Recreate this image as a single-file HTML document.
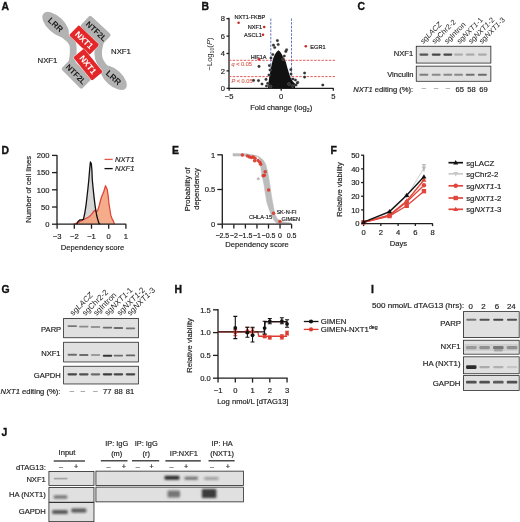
<!DOCTYPE html><html><head><meta charset="utf-8"><style>html,body{margin:0;padding:0;background:#fff;width:520px;height:522px;overflow:hidden}svg{display:block}</style></head><body>
<svg width="520" height="522" viewBox="0 0 520 522" style="paint-order:stroke" font-family='"Liberation Sans", sans-serif'>
<defs><filter id="blur" x="-50%" y="-100%" width="200%" height="300%"><feGaussianBlur stdDeviation="0.45"/></filter><filter id="blur2" x="-50%" y="-100%" width="200%" height="300%"><feGaussianBlur stdDeviation="0.8"/></filter></defs>
<rect width="520" height="522" fill="#fff"/>
<text x="1.5" y="9.5" font-size="10.4" text-anchor="start" fill="#111" font-weight="bold" stroke="#111" stroke-width="0.35">A</text>
<ellipse cx="55.6" cy="24.6" rx="16.4" ry="8.2" fill="#b3b3b3" transform="rotate(43 55.6 24.6)"/>
<ellipse cx="113.6" cy="77.6" rx="16.2" ry="8.2" fill="#b3b3b3" transform="rotate(42 113.6 77.6)"/>
<path d="M 60 32 C 68 37, 73 41, 73.2 47 S 73.6 57, 71.5 64" fill="none" stroke="#b3b3b3" stroke-width="6.8" stroke-linecap="round"/>
<path d="M 101 37 C 100 43, 98 48, 98.2 54 S 100 62, 106 70" fill="none" stroke="#b3b3b3" stroke-width="7.5" stroke-linecap="round"/>
<rect x="62.0" y="66.2" width="29" height="15.2" rx="2" fill="#b3b3b3" transform="rotate(45 76.5 73.8)"/>
<rect x="81.1" y="23.0" width="29" height="15.2" rx="2" fill="#b3b3b3" transform="rotate(43 95.6 30.6)"/>
<text x="55.6" y="27.62" font-size="8.4" text-anchor="middle" fill="#1a1a1a" font-weight="bold" transform="rotate(43 55.6 24.6)">LRR</text>
<text x="113.6" y="80.62" font-size="8.4" text-anchor="middle" fill="#1a1a1a" font-weight="bold" transform="rotate(42 113.6 77.6)">LRR</text>
<text x="96.4" y="34.08" font-size="8.0" text-anchor="middle" fill="#1a1a1a" font-weight="bold" transform="rotate(43 96.4 31.2)">NTF2L</text>
<text x="76.0" y="77.08" font-size="8.0" text-anchor="middle" fill="#1a1a1a" font-weight="bold" transform="rotate(45 76.0 74.2)">NTF2L</text>
<rect x="69.95" y="33.0" width="28.5" height="14" rx="1.5" fill="#e4282a" stroke="#fff" stroke-width="0.9" transform="rotate(44 84.2 40.0)"/>
<text x="84.2" y="43.0" font-size="8.4" text-anchor="middle" fill="#fff" font-weight="bold" transform="rotate(44 84.2 40.0)">NXT1</text>
<rect x="73.0" y="57.599999999999994" width="30" height="14" rx="1.5" fill="#e4282a" stroke="#fff" stroke-width="0.9" transform="rotate(51 88.0 64.6)"/>
<text x="88.0" y="67.6" font-size="8.4" text-anchor="middle" fill="#fff" font-weight="bold" transform="rotate(51 88.0 64.6)">NXT1</text>
<text x="37.5" y="63.0" font-size="7.8" text-anchor="start" fill="#1e1e1e" stroke="#1e1e1e" stroke-width="0.18">NXF1</text>
<text x="111.0" y="53.5" font-size="7.8" text-anchor="start" fill="#1e1e1e" stroke="#1e1e1e" stroke-width="0.18">NXF1</text>
<text x="201.5" y="9.5" font-size="10.4" text-anchor="start" fill="#111" font-weight="bold" stroke="#111" stroke-width="0.35">B</text>
<line x1="229.0" y1="17.8" x2="229.0" y2="88.3" stroke="#1e1e1e" stroke-width="1.3"/>
<line x1="228.45" y1="88.3" x2="333.6" y2="88.3" stroke="#1e1e1e" stroke-width="1.3"/>
<line x1="226.5" y1="88.3" x2="229.0" y2="88.3" stroke="#1e1e1e" stroke-width="1.3"/>
<text x="225.0" y="91.0" font-size="7.6" text-anchor="end" fill="#1e1e1e" stroke="#1e1e1e" stroke-width="0.18">0</text>
<line x1="226.5" y1="70.9" x2="229.0" y2="70.9" stroke="#1e1e1e" stroke-width="1.3"/>
<text x="225.0" y="73.60000000000001" font-size="7.6" text-anchor="end" fill="#1e1e1e" stroke="#1e1e1e" stroke-width="0.18">2</text>
<line x1="226.5" y1="53.5" x2="229.0" y2="53.5" stroke="#1e1e1e" stroke-width="1.3"/>
<text x="225.0" y="56.2" font-size="7.6" text-anchor="end" fill="#1e1e1e" stroke="#1e1e1e" stroke-width="0.18">4</text>
<line x1="226.5" y1="36.1" x2="229.0" y2="36.1" stroke="#1e1e1e" stroke-width="1.3"/>
<text x="225.0" y="38.800000000000004" font-size="7.6" text-anchor="end" fill="#1e1e1e" stroke="#1e1e1e" stroke-width="0.18">6</text>
<line x1="226.5" y1="18.700000000000003" x2="229.0" y2="18.700000000000003" stroke="#1e1e1e" stroke-width="1.3"/>
<text x="225.0" y="21.400000000000002" font-size="7.6" text-anchor="end" fill="#1e1e1e" stroke="#1e1e1e" stroke-width="0.18">8</text>
<line x1="229.1" y1="88.3" x2="229.1" y2="90.8" stroke="#1e1e1e" stroke-width="1.3"/>
<text x="229.1" y="98.8" font-size="7.6" text-anchor="middle" fill="#1e1e1e" stroke="#1e1e1e" stroke-width="0.18">−5</text>
<line x1="281.2" y1="88.3" x2="281.2" y2="90.8" stroke="#1e1e1e" stroke-width="1.3"/>
<text x="281.2" y="98.8" font-size="7.6" text-anchor="middle" fill="#1e1e1e" stroke="#1e1e1e" stroke-width="0.18">0</text>
<line x1="333.3" y1="88.3" x2="333.3" y2="90.8" stroke="#1e1e1e" stroke-width="1.3"/>
<text x="333.3" y="98.8" font-size="7.6" text-anchor="middle" fill="#1e1e1e" stroke="#1e1e1e" stroke-width="0.18">5</text>
<text x="281.2" y="110" font-size="7.6" text-anchor="middle" fill="#1e1e1e" stroke="#1e1e1e" stroke-width="0.18">Fold change (log<tspan font-size="5.2" dy="1.8">2</tspan><tspan dy="-1.8">)</tspan></text>
<text x="212.4" y="54" font-size="7.6" text-anchor="middle" fill="#1e1e1e" transform="rotate(-90 212.4 54)">−Log<tspan font-size="5.2" dy="1.8">10</tspan><tspan dy="-1.8">(</tspan><tspan font-style="italic">P</tspan>)</text>
<line x1="229.0" y1="60.3" x2="335.5" y2="60.3" stroke="#e04848" stroke-width="0.9" stroke-dasharray="2.4 1.3"/>
<line x1="229.0" y1="76.6" x2="335.5" y2="76.6" stroke="#e04848" stroke-width="0.9" stroke-dasharray="2.4 1.3"/>
<line x1="270.8" y1="18.5" x2="270.8" y2="88" stroke="#4a66b8" stroke-width="0.9" stroke-dasharray="2.4 1.3"/>
<line x1="291.5" y1="18.5" x2="291.5" y2="88" stroke="#4a66b8" stroke-width="0.9" stroke-dasharray="2.4 1.3"/>
<path d="M 268 88 L 268.3 84 L 269.3 77 L 270.6 70 L 271.8 64 L 273 59 L 274.6 55 L 276.5 52 L 278.4 50.3 L 280 51.5 L 281.6 54 L 283.5 57.5 L 285.8 62 L 287.3 67.5 L 288.8 72.5 L 290.2 77 L 292.8 81.5 L 295.4 84 L 295 88 Z" fill="#111"/>
<circle cx="259" cy="66.4" r="1.35" fill="#333" stroke="#aaa" stroke-width="0.45"/>
<circle cx="258.5" cy="80.6" r="1.35" fill="#333" stroke="#aaa" stroke-width="0.45"/>
<circle cx="262" cy="84" r="1.35" fill="#333" stroke="#aaa" stroke-width="0.45"/>
<circle cx="266" cy="79.4" r="1.35" fill="#333" stroke="#aaa" stroke-width="0.45"/>
<circle cx="267.7" cy="83.4" r="1.35" fill="#333" stroke="#aaa" stroke-width="0.45"/>
<circle cx="269.4" cy="65.6" r="1.35" fill="#333" stroke="#aaa" stroke-width="0.45"/>
<circle cx="283.3" cy="59.2" r="1.35" fill="#333" stroke="#aaa" stroke-width="0.45"/>
<circle cx="290.8" cy="69.6" r="1.35" fill="#333" stroke="#aaa" stroke-width="0.45"/>
<circle cx="304.6" cy="73" r="1.35" fill="#333" stroke="#aaa" stroke-width="0.45"/>
<circle cx="304.6" cy="77.1" r="1.35" fill="#333" stroke="#aaa" stroke-width="0.45"/>
<circle cx="295.4" cy="80" r="1.35" fill="#333" stroke="#aaa" stroke-width="0.45"/>
<circle cx="297.7" cy="82.3" r="1.35" fill="#333" stroke="#aaa" stroke-width="0.45"/>
<circle cx="253.5" cy="80.4" r="1.35" fill="#333" stroke="#aaa" stroke-width="0.45"/>
<circle cx="322.8" cy="85" r="1.35" fill="#333" stroke="#aaa" stroke-width="0.45"/>
<circle cx="277.4" cy="40.6" r="1.35" fill="#333" stroke="#aaa" stroke-width="0.45"/>
<circle cx="278.2" cy="44.5" r="1.35" fill="#333" stroke="#aaa" stroke-width="0.45"/>
<circle cx="273.5" cy="45.2" r="1.35" fill="#333" stroke="#aaa" stroke-width="0.45"/>
<circle cx="274.7" cy="47.5" r="1.35" fill="#333" stroke="#aaa" stroke-width="0.45"/>
<circle cx="286.6" cy="49.8" r="1.35" fill="#333" stroke="#aaa" stroke-width="0.45"/>
<circle cx="285.8" cy="51.4" r="1.35" fill="#333" stroke="#aaa" stroke-width="0.45"/>
<circle cx="272.8" cy="54.5" r="1.35" fill="#333" stroke="#aaa" stroke-width="0.45"/>
<circle cx="284.3" cy="56" r="1.35" fill="#333" stroke="#aaa" stroke-width="0.45"/>
<circle cx="271" cy="58" r="1.35" fill="#333" stroke="#aaa" stroke-width="0.45"/>
<circle cx="270" cy="70" r="1.35" fill="#333" stroke="#aaa" stroke-width="0.45"/>
<circle cx="269" cy="75" r="1.35" fill="#333" stroke="#aaa" stroke-width="0.45"/>
<circle cx="291" cy="74" r="1.35" fill="#333" stroke="#aaa" stroke-width="0.45"/>
<circle cx="293" cy="79" r="1.35" fill="#333" stroke="#aaa" stroke-width="0.45"/>
<circle cx="296" cy="85" r="1.35" fill="#333" stroke="#aaa" stroke-width="0.45"/>
<circle cx="266.5" cy="86" r="1.35" fill="#333" stroke="#aaa" stroke-width="0.45"/>
<circle cx="270.5" cy="86.5" r="1.35" fill="#333" stroke="#aaa" stroke-width="0.45"/>
<circle cx="289" cy="84" r="1.35" fill="#333" stroke="#aaa" stroke-width="0.45"/>
<circle cx="292.5" cy="86" r="1.35" fill="#333" stroke="#aaa" stroke-width="0.45"/>
<circle cx="297.3" cy="83" r="1.35" fill="#333" stroke="#aaa" stroke-width="0.45"/>
<circle cx="238.6" cy="22.7" r="1.3" fill="#c42a2a"/>
<circle cx="264.2" cy="27" r="1.3" fill="#c42a2a"/>
<circle cx="263" cy="34.8" r="1.3" fill="#c42a2a"/>
<circle cx="305.8" cy="46.2" r="1.3" fill="#c42a2a"/>
<circle cx="259" cy="59.2" r="1.3" fill="#c42a2a"/>
<text x="234.5" y="19.2" font-size="5.6" text-anchor="start" fill="#1e1e1e" stroke="#1e1e1e" stroke-width="0.18">NXT1-FKBP</text>
<text x="262" y="29.0" font-size="5.6" text-anchor="end" fill="#1e1e1e" stroke="#1e1e1e" stroke-width="0.18">NXF1</text>
<text x="261.8" y="37.0" font-size="5.6" text-anchor="end" fill="#1e1e1e" stroke="#1e1e1e" stroke-width="0.18">ASCL1</text>
<text x="266.5" y="59.4" font-size="5.6" text-anchor="end" fill="#1e1e1e" stroke="#1e1e1e" stroke-width="0.18">HIF1A</text>
<text x="310.3" y="48.6" font-size="5.6" text-anchor="start" fill="#1e1e1e" stroke="#1e1e1e" stroke-width="0.18">EGR1</text>
<text x="231.5" y="66.3" font-size="5.6" text-anchor="start" fill="#e06a5a" stroke="#e06a5a" stroke-width="0.18"><tspan font-style="italic">q</tspan> &lt; 0.05</text>
<text x="231.5" y="82.5" font-size="5.6" text-anchor="start" fill="#e06a5a" stroke="#e06a5a" stroke-width="0.18"><tspan font-style="italic">P</tspan> &lt; 0.05</text>
<text x="357.5" y="9.5" font-size="10.4" text-anchor="start" fill="#111" font-weight="bold" stroke="#111" stroke-width="0.35">C</text>
<text x="423.2" y="44.0" font-size="7.4" fill="#1e1e1e" transform="rotate(-45 423.2 44.0)">sg<tspan font-style="italic">LACZ</tspan></text>
<text x="434.8" y="44.0" font-size="7.4" fill="#1e1e1e" transform="rotate(-45 434.8 44.0)">sgChr2-2</text>
<text x="447.3" y="44.0" font-size="7.4" fill="#1e1e1e" transform="rotate(-45 447.3 44.0)">sgIntron</text>
<text x="459.8" y="44.0" font-size="7.4" fill="#1e1e1e" transform="rotate(-45 459.8 44.0)">sg<tspan font-style="italic">NXT1</tspan>-1</text>
<text x="471.3" y="44.0" font-size="7.4" fill="#1e1e1e" transform="rotate(-45 471.3 44.0)">sg<tspan font-style="italic">NXT1</tspan>-2</text>
<text x="481.9" y="44.0" font-size="7.4" fill="#1e1e1e" transform="rotate(-45 481.9 44.0)">sg<tspan font-style="italic">NXT1</tspan>-3</text>
<rect x="416.6" y="46.6" width="73.9" height="16.1" fill="#e0e0e0" stroke="#1a1a1a" stroke-width="1.5"/>
<rect x="416.6" y="66.5" width="73.9" height="14.4" fill="#e0e0e0" stroke="#1a1a1a" stroke-width="1.5"/>
<rect x="419.40" y="53.55" width="9" height="2.1" rx="1.05" fill="#222" fill-opacity="0.72" filter="url(#blur)"/>
<rect x="419.40" y="73.75" width="9" height="1.9" rx="0.95" fill="#222" fill-opacity="0.5" filter="url(#blur)"/>
<rect x="431.70" y="53.55" width="9" height="2.1" rx="1.05" fill="#222" fill-opacity="0.8" filter="url(#blur)"/>
<rect x="431.70" y="73.75" width="9" height="1.9" rx="0.95" fill="#222" fill-opacity="0.45" filter="url(#blur)"/>
<rect x="443.30" y="53.55" width="9" height="2.1" rx="1.05" fill="#222" fill-opacity="0.8" filter="url(#blur)"/>
<rect x="443.30" y="73.75" width="9" height="1.9" rx="0.95" fill="#222" fill-opacity="0.45" filter="url(#blur)"/>
<rect x="454.10" y="53.55" width="9" height="2.1" rx="1.05" fill="#222" fill-opacity="0.25" filter="url(#blur)"/>
<rect x="454.10" y="73.75" width="9" height="1.9" rx="0.95" fill="#222" fill-opacity="0.45" filter="url(#blur)"/>
<rect x="465.70" y="53.55" width="9" height="2.1" rx="1.05" fill="#222" fill-opacity="0.27" filter="url(#blur)"/>
<rect x="465.70" y="73.75" width="9" height="1.9" rx="0.95" fill="#222" fill-opacity="0.58" filter="url(#blur)"/>
<rect x="477.90" y="53.55" width="9" height="2.1" rx="1.05" fill="#222" fill-opacity="0.27" filter="url(#blur)"/>
<rect x="477.90" y="73.75" width="9" height="1.9" rx="0.95" fill="#222" fill-opacity="0.62" filter="url(#blur)"/>
<text x="413.2" y="56.2" font-size="7.6" text-anchor="end" fill="#1e1e1e" stroke="#1e1e1e" stroke-width="0.18">NXF1</text>
<text x="413.6" y="77.4" font-size="7.6" text-anchor="end" fill="#1e1e1e" stroke="#1e1e1e" stroke-width="0.18">Vinculin</text>
<text x="413.2" y="92.2" font-size="7.6" text-anchor="end" fill="#1e1e1e" stroke="#1e1e1e" stroke-width="0.18"><tspan font-style="italic">NXT1</tspan> editing (%):</text>
<text x="423.9" y="90.0" font-size="7.6" text-anchor="middle" fill="#777" stroke="#777" stroke-width="0.18">–</text>
<text x="436.2" y="90.0" font-size="7.6" text-anchor="middle" fill="#777" stroke="#777" stroke-width="0.18">–</text>
<text x="447.8" y="90.0" font-size="7.6" text-anchor="middle" fill="#777" stroke="#777" stroke-width="0.18">–</text>
<text x="459.8" y="91.8" font-size="7.6" text-anchor="middle" fill="#1e1e1e" stroke="#1e1e1e" stroke-width="0.18">65</text>
<text x="471.4" y="91.8" font-size="7.6" text-anchor="middle" fill="#1e1e1e" stroke="#1e1e1e" stroke-width="0.18">58</text>
<text x="483.59999999999997" y="91.8" font-size="7.6" text-anchor="middle" fill="#1e1e1e" stroke="#1e1e1e" stroke-width="0.18">69</text>
<text x="1.5" y="154.2" font-size="10.4" text-anchor="start" fill="#111" font-weight="bold" stroke="#111" stroke-width="0.35">D</text>
<polygon points="76.5,224.2 78,221.5 80,219.8 82,219.8 83.5,219.2 85,212 86.2,203.8 87.1,196 87.9,188.8 88.8,180 89.6,170 90.4,162 91.3,163.5 91.9,170 92.3,180 93.2,189 94.1,197.6 95.0,205 95.9,210.8 96.7,215.5 97.6,218.8 98.9,223.2 100,224.2" fill="#d6d6d6"/>
<polygon points="73.6,224.2 77,223.2 80,221.4 82.5,220.2 85.3,218.8 88.8,217 91.5,214.4 94.5,210.4 96.3,211.5 97.6,210.8 99.2,205.5 100.6,200 101.6,196.7 103.8,191.5 105.5,185.7 107.3,189.7 108.2,196 109,203.8 110,210 110.8,215.2 112.2,219 113.5,221.4 114.4,224.2" fill="#f4a07a" fill-opacity="0.88"/>
<polyline points="73.6,224.2 77,223.2 80,221.4 82.5,220.2 85.3,218.8 88.8,217 91.5,214.4 94.5,210.4 96.3,211.5 97.6,210.8 99.2,205.5 100.6,200 101.6,196.7 103.8,191.5 105.5,185.7 107.3,189.7 108.2,196 109,203.8 110,210 110.8,215.2 112.2,219 113.5,221.4 114.4,224.2" fill="none" stroke="#dc4436" stroke-width="1.25" stroke-linejoin="round"/>
<polyline points="76.5,224.2 78,221.5 80,219.8 82,219.8 83.5,219.2 85,212 86.2,203.8 87.1,196 87.9,188.8 88.8,180 89.6,170 90.4,162 91.3,163.5 91.9,170 92.3,180 93.2,189 94.1,197.6 95.0,205 95.9,210.8 96.7,215.5 97.6,218.8 98.9,223.2 100,224.2" fill="none" stroke="#111" stroke-width="1.3" stroke-linejoin="round"/>
<line x1="57.0" y1="155.0" x2="57.0" y2="224.2" stroke="#1e1e1e" stroke-width="1.3"/>
<line x1="57.0" y1="224.2" x2="126.2" y2="224.2" stroke="#1e1e1e" stroke-width="1.3"/>
<line x1="52.0" y1="224.2" x2="57.0" y2="224.2" stroke="#1e1e1e" stroke-width="1.3"/>
<text x="49.4" y="226.89999999999998" font-size="7.6" text-anchor="end" fill="#1e1e1e" stroke="#1e1e1e" stroke-width="0.18">0</text>
<line x1="52.0" y1="207.0" x2="57.0" y2="207.0" stroke="#1e1e1e" stroke-width="1.3"/>
<text x="49.4" y="209.7" font-size="7.6" text-anchor="end" fill="#1e1e1e" stroke="#1e1e1e" stroke-width="0.18">50</text>
<line x1="52.0" y1="189.79999999999998" x2="57.0" y2="189.79999999999998" stroke="#1e1e1e" stroke-width="1.3"/>
<text x="49.4" y="192.49999999999997" font-size="7.6" text-anchor="end" fill="#1e1e1e" stroke="#1e1e1e" stroke-width="0.18">100</text>
<line x1="52.0" y1="172.6" x2="57.0" y2="172.6" stroke="#1e1e1e" stroke-width="1.3"/>
<text x="49.4" y="175.29999999999998" font-size="7.6" text-anchor="end" fill="#1e1e1e" stroke="#1e1e1e" stroke-width="0.18">150</text>
<line x1="52.0" y1="155.39999999999998" x2="57.0" y2="155.39999999999998" stroke="#1e1e1e" stroke-width="1.3"/>
<text x="49.4" y="158.09999999999997" font-size="7.6" text-anchor="end" fill="#1e1e1e" stroke="#1e1e1e" stroke-width="0.18">200</text>
<line x1="57.10000000000001" y1="224.2" x2="57.10000000000001" y2="228.7" stroke="#1e1e1e" stroke-width="1.3"/>
<text x="57.10000000000001" y="239.0" font-size="7.6" text-anchor="middle" fill="#1e1e1e" stroke="#1e1e1e" stroke-width="0.18">−3</text>
<line x1="74.30000000000001" y1="224.2" x2="74.30000000000001" y2="228.7" stroke="#1e1e1e" stroke-width="1.3"/>
<text x="74.30000000000001" y="239.0" font-size="7.6" text-anchor="middle" fill="#1e1e1e" stroke="#1e1e1e" stroke-width="0.18">−2</text>
<line x1="91.5" y1="224.2" x2="91.5" y2="228.7" stroke="#1e1e1e" stroke-width="1.3"/>
<text x="91.5" y="239.0" font-size="7.6" text-anchor="middle" fill="#1e1e1e" stroke="#1e1e1e" stroke-width="0.18">−1</text>
<line x1="108.7" y1="224.2" x2="108.7" y2="228.7" stroke="#1e1e1e" stroke-width="1.3"/>
<text x="108.7" y="239.0" font-size="7.6" text-anchor="middle" fill="#1e1e1e" stroke="#1e1e1e" stroke-width="0.18">0</text>
<line x1="125.9" y1="224.2" x2="125.9" y2="228.7" stroke="#1e1e1e" stroke-width="1.3"/>
<text x="125.9" y="239.0" font-size="7.6" text-anchor="middle" fill="#1e1e1e" stroke="#1e1e1e" stroke-width="0.18">1</text>
<text x="92.5" y="250.2" font-size="7.6" text-anchor="middle" fill="#1e1e1e" stroke="#1e1e1e" stroke-width="0.18">Dependency score</text>
<text x="30.6" y="189.4" font-size="7.6" text-anchor="middle" fill="#1e1e1e" transform="rotate(-90 30.6 189.4)" stroke="#1e1e1e" stroke-width="0.18">Number of cell lines</text>
<line x1="104.5" y1="159.4" x2="112.7" y2="159.4" stroke="#e45a48" stroke-width="1.3"/>
<line x1="104.5" y1="168.6" x2="112.7" y2="168.6" stroke="#111" stroke-width="1.3"/>
<text x="115" y="162.0" font-size="7.6" text-anchor="start" fill="#1e1e1e" font-style="italic" stroke="#1e1e1e" stroke-width="0.18">NXT1</text>
<text x="115" y="171.2" font-size="7.6" text-anchor="start" fill="#1e1e1e" font-style="italic" stroke="#1e1e1e" stroke-width="0.18">NXF1</text>
<text x="172" y="154.2" font-size="10.4" text-anchor="start" fill="#111" font-weight="bold" stroke="#111" stroke-width="0.35">E</text>
<polygon points="233.0,153.6 246.1,153.8 256.5,155.6 260.0,159.5 260.8,167.5 261.9,174.4 264.0,184.8 265.6,195.2 266.8,202.1 269.0,209 271.6,216 274.5,221.1 277.3,223.6 291.2,223.6 290.5,223.0 282.5,221.8 277.6,219.2 274.9,214.2 273.2,205.6 271.6,196.9 270.4,188.3 269.0,179.6 267.5,171 265.6,164 262.9,159.7 258.5,156.2 246,156.0 233.0,156.0" fill="#bcbcbc" stroke="#bcbcbc" stroke-width="0.6" stroke-linejoin="round"/>
<circle cx="258.3" cy="178.7" r="1.5" fill="#bcbcbc"/>
<circle cx="242.4" cy="155.1" r="1.75" fill="#dc3a2c" fill-opacity="0.92"/>
<circle cx="247.5" cy="156" r="1.75" fill="#dc3a2c" fill-opacity="0.92"/>
<circle cx="249.5" cy="156.9" r="1.75" fill="#dc3a2c" fill-opacity="0.92"/>
<circle cx="251.5" cy="157.4" r="1.75" fill="#dc3a2c" fill-opacity="0.92"/>
<circle cx="253.2" cy="157" r="1.75" fill="#dc3a2c" fill-opacity="0.92"/>
<circle cx="255" cy="158.3" r="1.75" fill="#dc3a2c" fill-opacity="0.92"/>
<circle cx="254.6" cy="160.8" r="1.75" fill="#dc3a2c" fill-opacity="0.92"/>
<circle cx="258" cy="160.5" r="1.75" fill="#dc3a2c" fill-opacity="0.92"/>
<circle cx="259.8" cy="162.3" r="1.75" fill="#dc3a2c" fill-opacity="0.92"/>
<circle cx="260.6" cy="164.3" r="1.75" fill="#dc3a2c" fill-opacity="0.92"/>
<circle cx="265.2" cy="171.8" r="1.75" fill="#dc3a2c" fill-opacity="0.92"/>
<circle cx="264.3" cy="175.3" r="1.75" fill="#dc3a2c" fill-opacity="0.92"/>
<circle cx="263.1" cy="175.8" r="1.75" fill="#dc3a2c" fill-opacity="0.92"/>
<circle cx="268.6" cy="190" r="1.75" fill="#dc3a2c" fill-opacity="0.92"/>
<circle cx="273.5" cy="213.3" r="1.75" fill="#dc3a2c" fill-opacity="0.92"/>
<circle cx="279.9" cy="221.5" r="1.75" fill="#dc3a2c" fill-opacity="0.92"/>
<line x1="222.3" y1="154.6" x2="222.3" y2="224.2" stroke="#1e1e1e" stroke-width="1.3"/>
<line x1="222.3" y1="224.2" x2="291.6" y2="224.2" stroke="#1e1e1e" stroke-width="1.3"/>
<line x1="217.3" y1="224.2" x2="222.3" y2="224.2" stroke="#1e1e1e" stroke-width="1.3"/>
<text x="215.3" y="226.89999999999998" font-size="7.6" text-anchor="end" fill="#1e1e1e" stroke="#1e1e1e" stroke-width="0.18">0</text>
<line x1="217.3" y1="189.5" x2="222.3" y2="189.5" stroke="#1e1e1e" stroke-width="1.3"/>
<text x="215.3" y="192.2" font-size="7.6" text-anchor="end" fill="#1e1e1e" stroke="#1e1e1e" stroke-width="0.18">0.5</text>
<line x1="217.3" y1="154.79999999999998" x2="222.3" y2="154.79999999999998" stroke="#1e1e1e" stroke-width="1.3"/>
<text x="215.3" y="157.49999999999997" font-size="7.6" text-anchor="end" fill="#1e1e1e" stroke="#1e1e1e" stroke-width="0.18">1</text>
<line x1="222.3" y1="224.2" x2="222.3" y2="228.5" stroke="#1e1e1e" stroke-width="1.3"/>
<text x="222.3" y="238.0" font-size="7.0" text-anchor="middle" fill="#1e1e1e" stroke="#1e1e1e" stroke-width="0.18">−2.5</text>
<line x1="233.85000000000002" y1="224.2" x2="233.85000000000002" y2="228.5" stroke="#1e1e1e" stroke-width="1.3"/>
<text x="233.85000000000002" y="238.0" font-size="7.0" text-anchor="middle" fill="#1e1e1e" stroke="#1e1e1e" stroke-width="0.18">−2</text>
<line x1="245.4" y1="224.2" x2="245.4" y2="228.5" stroke="#1e1e1e" stroke-width="1.3"/>
<text x="245.4" y="238.0" font-size="7.0" text-anchor="middle" fill="#1e1e1e" stroke="#1e1e1e" stroke-width="0.18">−1.5</text>
<line x1="256.95000000000005" y1="224.2" x2="256.95000000000005" y2="228.5" stroke="#1e1e1e" stroke-width="1.3"/>
<text x="256.95000000000005" y="238.0" font-size="7.0" text-anchor="middle" fill="#1e1e1e" stroke="#1e1e1e" stroke-width="0.18">−1</text>
<line x1="268.5" y1="224.2" x2="268.5" y2="228.5" stroke="#1e1e1e" stroke-width="1.3"/>
<text x="268.5" y="238.0" font-size="7.0" text-anchor="middle" fill="#1e1e1e" stroke="#1e1e1e" stroke-width="0.18">−0.5</text>
<line x1="280.05" y1="224.2" x2="280.05" y2="228.5" stroke="#1e1e1e" stroke-width="1.3"/>
<text x="280.05" y="238.0" font-size="7.0" text-anchor="middle" fill="#1e1e1e" stroke="#1e1e1e" stroke-width="0.18">0</text>
<line x1="291.6" y1="224.2" x2="291.6" y2="228.5" stroke="#1e1e1e" stroke-width="1.3"/>
<text x="291.6" y="238.0" font-size="7.0" text-anchor="middle" fill="#1e1e1e" stroke="#1e1e1e" stroke-width="0.18">0.5</text>
<text x="257" y="246.6" font-size="7.6" text-anchor="middle" fill="#1e1e1e" stroke="#1e1e1e" stroke-width="0.18">Dependency score</text>
<text x="190.3" y="189.3" font-size="7.6" text-anchor="middle" fill="#1e1e1e" transform="rotate(-90 190.3 189.3)" stroke="#1e1e1e" stroke-width="0.18">Probability of</text>
<text x="199.4" y="189.0" font-size="7.6" text-anchor="middle" fill="#1e1e1e" transform="rotate(-90 199.4 189.0)" stroke="#1e1e1e" stroke-width="0.18">dependency</text>
<text x="276.4" y="214.2" font-size="5.6" text-anchor="start" fill="#1e1e1e" stroke="#1e1e1e" stroke-width="0.18">SK-N-FI</text>
<text x="272.0" y="219.4" font-size="5.6" text-anchor="end" fill="#1e1e1e" stroke="#1e1e1e" stroke-width="0.18">CHLA-15</text>
<text x="281.6" y="221.2" font-size="5.6" text-anchor="start" fill="#1e1e1e" stroke="#1e1e1e" stroke-width="0.18">GIMEN</text>
<text x="330.5" y="154.2" font-size="10.4" text-anchor="start" fill="#111" font-weight="bold" stroke="#111" stroke-width="0.35">F</text>
<line x1="363.6" y1="154.8" x2="363.6" y2="223.6" stroke="#1e1e1e" stroke-width="1.3"/>
<line x1="363.6" y1="223.6" x2="432.8" y2="223.6" stroke="#1e1e1e" stroke-width="1.3"/>
<line x1="361.1" y1="223.6" x2="363.6" y2="223.6" stroke="#1e1e1e" stroke-width="1.3"/>
<text x="359.6" y="226.29999999999998" font-size="7.6" text-anchor="end" fill="#1e1e1e" stroke="#1e1e1e" stroke-width="0.18">0</text>
<line x1="361.1" y1="209.92" x2="363.6" y2="209.92" stroke="#1e1e1e" stroke-width="1.3"/>
<text x="359.6" y="212.61999999999998" font-size="7.6" text-anchor="end" fill="#1e1e1e" stroke="#1e1e1e" stroke-width="0.18">10</text>
<line x1="361.1" y1="196.23999999999998" x2="363.6" y2="196.23999999999998" stroke="#1e1e1e" stroke-width="1.3"/>
<text x="359.6" y="198.93999999999997" font-size="7.6" text-anchor="end" fill="#1e1e1e" stroke="#1e1e1e" stroke-width="0.18">20</text>
<line x1="361.1" y1="182.56" x2="363.6" y2="182.56" stroke="#1e1e1e" stroke-width="1.3"/>
<text x="359.6" y="185.26" font-size="7.6" text-anchor="end" fill="#1e1e1e" stroke="#1e1e1e" stroke-width="0.18">30</text>
<line x1="361.1" y1="168.88" x2="363.6" y2="168.88" stroke="#1e1e1e" stroke-width="1.3"/>
<text x="359.6" y="171.57999999999998" font-size="7.6" text-anchor="end" fill="#1e1e1e" stroke="#1e1e1e" stroke-width="0.18">40</text>
<line x1="361.1" y1="155.2" x2="363.6" y2="155.2" stroke="#1e1e1e" stroke-width="1.3"/>
<text x="359.6" y="157.89999999999998" font-size="7.6" text-anchor="end" fill="#1e1e1e" stroke="#1e1e1e" stroke-width="0.18">50</text>
<line x1="363.6" y1="223.6" x2="363.6" y2="226.1" stroke="#1e1e1e" stroke-width="1.3"/>
<text x="363.6" y="234.7" font-size="7.6" text-anchor="middle" fill="#1e1e1e" stroke="#1e1e1e" stroke-width="0.18">0</text>
<line x1="380.84000000000003" y1="223.6" x2="380.84000000000003" y2="226.1" stroke="#1e1e1e" stroke-width="1.3"/>
<text x="380.84000000000003" y="234.7" font-size="7.6" text-anchor="middle" fill="#1e1e1e" stroke="#1e1e1e" stroke-width="0.18">2</text>
<line x1="398.08000000000004" y1="223.6" x2="398.08000000000004" y2="226.1" stroke="#1e1e1e" stroke-width="1.3"/>
<text x="398.08000000000004" y="234.7" font-size="7.6" text-anchor="middle" fill="#1e1e1e" stroke="#1e1e1e" stroke-width="0.18">4</text>
<line x1="415.32000000000005" y1="223.6" x2="415.32000000000005" y2="226.1" stroke="#1e1e1e" stroke-width="1.3"/>
<text x="415.32000000000005" y="234.7" font-size="7.6" text-anchor="middle" fill="#1e1e1e" stroke="#1e1e1e" stroke-width="0.18">6</text>
<line x1="432.56" y1="223.6" x2="432.56" y2="226.1" stroke="#1e1e1e" stroke-width="1.3"/>
<text x="432.56" y="234.7" font-size="7.6" text-anchor="middle" fill="#1e1e1e" stroke="#1e1e1e" stroke-width="0.18">8</text>
<text x="398.4" y="245.9" font-size="7.6" text-anchor="middle" fill="#1e1e1e" stroke="#1e1e1e" stroke-width="0.18">Days</text>
<text x="342.3" y="189.5" font-size="7.6" text-anchor="middle" fill="#1e1e1e" transform="rotate(-90 342.3 189.5)" stroke="#1e1e1e" stroke-width="0.18">Relative viability</text>
<polyline points="363.6,222.232 389.46000000000004,212.656 406.70000000000005,196.23999999999998 423.94,168.196" fill="none" stroke="#c8c8c8" stroke-width="0.9"/>
<polygon points="363.6,224.87199999999999 361.07000000000005,220.472 366.13,220.472" fill="#c8c8c8"/>
<polygon points="389.46000000000004,215.296 386.93000000000006,210.89600000000002 391.99,210.89600000000002" fill="#c8c8c8"/>
<polygon points="406.70000000000005,198.87999999999997 404.1700000000001,194.48 409.23,194.48" fill="#c8c8c8"/>
<polygon points="423.94,170.83599999999998 421.41,166.436 426.46999999999997,166.436" fill="#c8c8c8"/>
<polyline points="363.6,222.232 389.46000000000004,216.076 406.70000000000005,205.816 423.94,191.1784" fill="none" stroke="#e0463c" stroke-width="1.35"/>
<rect x="361.40000000000003" y="220.032" width="4.4" height="4.4" fill="#e0463c"/>
<rect x="387.26000000000005" y="213.876" width="4.4" height="4.4" fill="#e0463c"/>
<rect x="404.50000000000006" y="203.616" width="4.4" height="4.4" fill="#e0463c"/>
<rect x="421.74" y="188.97840000000002" width="4.4" height="4.4" fill="#e0463c"/>
<polyline points="363.6,222.232 389.46000000000004,215.392 406.70000000000005,201.98559999999998 423.94,185.296" fill="none" stroke="#e0463c" stroke-width="1.35"/>
<circle cx="363.6" cy="222.232" r="2.2" fill="#e0463c"/>
<circle cx="389.46000000000004" cy="215.392" r="2.2" fill="#e0463c"/>
<circle cx="406.70000000000005" cy="201.98559999999998" r="2.2" fill="#e0463c"/>
<circle cx="423.94" cy="185.296" r="2.2" fill="#e0463c"/>
<polyline points="363.6,222.232 389.46000000000004,215.1184 406.70000000000005,201.028 423.94,179.9608" fill="none" stroke="#e0463c" stroke-width="1.35"/>
<polygon points="363.6,219.592 361.07000000000005,223.992 366.13,223.992" fill="#e0463c"/>
<polygon points="389.46000000000004,212.47840000000002 386.93000000000006,216.8784 391.99,216.8784" fill="#e0463c"/>
<polygon points="406.70000000000005,198.388 404.1700000000001,202.78799999999998 409.23,202.78799999999998" fill="#e0463c"/>
<polygon points="423.94,177.32080000000002 421.41,181.7208 426.46999999999997,181.7208" fill="#e0463c"/>
<polyline points="363.6,222.232 389.46000000000004,211.5616 406.70000000000005,195.2824 423.94,176.81439999999998" fill="none" stroke="#111111" stroke-width="1.35"/>
<polygon points="363.6,219.592 361.07000000000005,223.992 366.13,223.992" fill="#111111"/>
<polygon points="389.46000000000004,208.9216 386.93000000000006,213.3216 391.99,213.3216" fill="#111111"/>
<polygon points="406.70000000000005,192.6424 404.1700000000001,197.0424 409.23,197.0424" fill="#111111"/>
<polygon points="423.94,174.1744 421.41,178.57439999999997 426.46999999999997,178.57439999999997" fill="#111111"/>
<line x1="423.94" y1="171.61599999999999" x2="423.94" y2="164.77599999999998" stroke="#aaa" stroke-width="1"/>
<line x1="421.94" y1="164.77599999999998" x2="425.94" y2="164.77599999999998" stroke="#aaa" stroke-width="1"/>
<line x1="448.5" y1="162.7" x2="463" y2="162.7" stroke="#111" stroke-width="1.7"/>
<polygon points="455.7,160.06 453.17,164.45999999999998 458.22999999999996,164.45999999999998" fill="#111"/>
<text x="466.2" y="165.5" font-size="7.8" text-anchor="start" fill="#1e1e1e" stroke="#1e1e1e" stroke-width="0.18">sgLACZ</text>
<line x1="448.5" y1="173.8" x2="463" y2="173.8" stroke="#c8c8c8" stroke-width="1.7"/>
<polygon points="455.7,176.44 453.17,172.04000000000002 458.22999999999996,172.04000000000002" fill="#c8c8c8"/>
<text x="466.2" y="176.60000000000002" font-size="7.8" text-anchor="start" fill="#1e1e1e" stroke="#1e1e1e" stroke-width="0.18">sgChr2-2</text>
<line x1="448.5" y1="185.8" x2="463" y2="185.8" stroke="#e0463c" stroke-width="1.7"/>
<circle cx="455.7" cy="185.8" r="2.2" fill="#e0463c"/>
<text x="466.2" y="188.60000000000002" font-size="7.8" text-anchor="start" fill="#1e1e1e" stroke="#1e1e1e" stroke-width="0.18">sg<tspan font-style="italic">NXT1</tspan>-1</text>
<line x1="448.5" y1="198.0" x2="463" y2="198.0" stroke="#e0463c" stroke-width="1.7"/>
<rect x="453.5" y="195.8" width="4.4" height="4.4" fill="#e0463c"/>
<text x="466.2" y="200.8" font-size="7.8" text-anchor="start" fill="#1e1e1e" stroke="#1e1e1e" stroke-width="0.18">sg<tspan font-style="italic">NXT1</tspan>-2</text>
<line x1="448.5" y1="209.3" x2="463" y2="209.3" stroke="#e0463c" stroke-width="1.7"/>
<polygon points="455.7,206.66000000000003 453.17,211.06 458.22999999999996,211.06" fill="#e0463c"/>
<text x="466.2" y="212.10000000000002" font-size="7.8" text-anchor="start" fill="#1e1e1e" stroke="#1e1e1e" stroke-width="0.18">sg<tspan font-style="italic">NXT1</tspan>-3</text>
<text x="1.5" y="292.5" font-size="10.4" text-anchor="start" fill="#111" font-weight="bold" stroke="#111" stroke-width="0.35">G</text>
<text x="73.1" y="316.0" font-size="8.0" fill="#1e1e1e" transform="rotate(-45 73.1 316.0)">sg<tspan font-style="italic">LACZ</tspan></text>
<text x="85.3" y="316.0" font-size="8.0" fill="#1e1e1e" transform="rotate(-45 85.3 316.0)">sgChr2-2</text>
<text x="96.5" y="316.0" font-size="8.0" fill="#1e1e1e" transform="rotate(-45 96.5 316.0)">sgIntron</text>
<text x="107.7" y="316.0" font-size="8.0" fill="#1e1e1e" transform="rotate(-45 107.7 316.0)">sg<tspan font-style="italic">NXT1</tspan>-1</text>
<text x="119.9" y="316.0" font-size="8.0" fill="#1e1e1e" transform="rotate(-45 119.9 316.0)">sg<tspan font-style="italic">NXT1</tspan>-2</text>
<text x="130.2" y="316.0" font-size="8.0" fill="#1e1e1e" transform="rotate(-45 130.2 316.0)">sg<tspan font-style="italic">NXT1</tspan>-3</text>
<rect x="64.0" y="318.8" width="74.0" height="18.6" fill="#e0e0e0" stroke="#1a1a1a" stroke-width="1.5"/>
<rect x="64.0" y="342.6" width="74.0" height="19.0" fill="#e0e0e0" stroke="#1a1a1a" stroke-width="1.5"/>
<rect x="64.0" y="366.6" width="74.0" height="17.0" fill="#e0e0e0" stroke="#1a1a1a" stroke-width="1.5"/>
<rect x="67.60" y="325.30" width="9.4" height="1.8" rx="0.9" fill="#222" fill-opacity="0.55" filter="url(#blur)"/>
<rect x="67.60" y="353.85" width="9.4" height="1.9" rx="0.95" fill="#222" fill-opacity="0.6" filter="url(#blur)"/>
<rect x="67.50" y="373.20" width="9.6" height="2.2" rx="1.1" fill="#222" fill-opacity="0.8" filter="url(#blur)"/>
<rect x="79.10" y="325.70" width="9.4" height="1.8" rx="0.9" fill="#222" fill-opacity="0.45" filter="url(#blur)"/>
<rect x="79.10" y="354.05" width="9.4" height="1.9" rx="0.95" fill="#222" fill-opacity="0.6" filter="url(#blur)"/>
<rect x="79.00" y="373.20" width="9.6" height="2.2" rx="1.1" fill="#222" fill-opacity="0.75" filter="url(#blur)"/>
<rect x="90.80" y="326.10" width="9.4" height="1.8" rx="0.9" fill="#222" fill-opacity="0.4" filter="url(#blur)"/>
<rect x="90.80" y="354.05" width="9.4" height="1.9" rx="0.95" fill="#222" fill-opacity="0.35" filter="url(#blur)"/>
<rect x="90.70" y="373.20" width="9.6" height="2.2" rx="1.1" fill="#222" fill-opacity="0.6" filter="url(#blur)"/>
<rect x="102.80" y="326.70" width="9.4" height="1.8" rx="0.9" fill="#222" fill-opacity="0.6" filter="url(#blur)"/>
<rect x="102.80" y="354.85" width="9.4" height="1.9" rx="0.95" fill="#222" fill-opacity="0.9" filter="url(#blur)"/>
<rect x="102.70" y="373.20" width="9.6" height="2.2" rx="1.1" fill="#222" fill-opacity="0.85" filter="url(#blur)"/>
<rect x="113.70" y="327.10" width="9.4" height="1.8" rx="0.9" fill="#222" fill-opacity="0.6" filter="url(#blur)"/>
<rect x="113.70" y="354.65" width="9.4" height="1.9" rx="0.95" fill="#222" fill-opacity="0.6" filter="url(#blur)"/>
<rect x="113.60" y="373.20" width="9.6" height="2.2" rx="1.1" fill="#222" fill-opacity="0.8" filter="url(#blur)"/>
<rect x="125.80" y="327.40" width="9.4" height="1.8" rx="0.9" fill="#222" fill-opacity="0.55" filter="url(#blur)"/>
<rect x="125.80" y="354.45" width="9.4" height="1.9" rx="0.95" fill="#222" fill-opacity="0.65" filter="url(#blur)"/>
<rect x="125.70" y="373.20" width="9.6" height="2.2" rx="1.1" fill="#222" fill-opacity="0.8" filter="url(#blur)"/>
<text x="61.2" y="332.2" font-size="7.6" text-anchor="end" fill="#1e1e1e" stroke="#1e1e1e" stroke-width="0.18">PARP</text>
<text x="60.6" y="356.0" font-size="7.6" text-anchor="end" fill="#1e1e1e" stroke="#1e1e1e" stroke-width="0.18">NXF1</text>
<text x="60.8" y="377.8" font-size="7.6" text-anchor="end" fill="#1e1e1e" stroke="#1e1e1e" stroke-width="0.18">GAPDH</text>
<text x="60.4" y="394.3" font-size="7.6" text-anchor="end" fill="#1e1e1e" stroke="#1e1e1e" stroke-width="0.18"><tspan font-style="italic">NXT1</tspan> editing (%):</text>
<text x="71.9" y="392.8" font-size="7.6" text-anchor="middle" fill="#555" stroke="#555" stroke-width="0.18">–</text>
<text x="82.9" y="392.8" font-size="7.6" text-anchor="middle" fill="#555" stroke="#555" stroke-width="0.18">–</text>
<text x="95.4" y="392.8" font-size="7.6" text-anchor="middle" fill="#555" stroke="#555" stroke-width="0.18">–</text>
<text x="107.3" y="394.3" font-size="7.6" text-anchor="middle" fill="#1e1e1e" stroke="#1e1e1e" stroke-width="0.18">77</text>
<text x="118.4" y="394.3" font-size="7.6" text-anchor="middle" fill="#1e1e1e" stroke="#1e1e1e" stroke-width="0.18">88</text>
<text x="130.0" y="394.3" font-size="7.6" text-anchor="middle" fill="#1e1e1e" stroke="#1e1e1e" stroke-width="0.18">81</text>
<text x="174.5" y="292.5" font-size="10.4" text-anchor="start" fill="#111" font-weight="bold" stroke="#111" stroke-width="0.35">H</text>
<line x1="218.0" y1="309.0" x2="218.0" y2="378.2" stroke="#1e1e1e" stroke-width="1.3"/>
<line x1="218.0" y1="378.2" x2="287.7" y2="378.2" stroke="#1e1e1e" stroke-width="1.3"/>
<line x1="213.0" y1="378.2" x2="218.0" y2="378.2" stroke="#1e1e1e" stroke-width="1.3"/>
<text x="210.7" y="380.9" font-size="7.6" text-anchor="end" fill="#1e1e1e" stroke="#1e1e1e" stroke-width="0.18">0.0</text>
<line x1="213.0" y1="355.4" x2="218.0" y2="355.4" stroke="#1e1e1e" stroke-width="1.3"/>
<text x="210.7" y="358.09999999999997" font-size="7.6" text-anchor="end" fill="#1e1e1e" stroke="#1e1e1e" stroke-width="0.18">0.5</text>
<line x1="213.0" y1="332.59999999999997" x2="218.0" y2="332.59999999999997" stroke="#1e1e1e" stroke-width="1.3"/>
<text x="210.7" y="335.29999999999995" font-size="7.6" text-anchor="end" fill="#1e1e1e" stroke="#1e1e1e" stroke-width="0.18">1.0</text>
<line x1="213.0" y1="309.79999999999995" x2="218.0" y2="309.79999999999995" stroke="#1e1e1e" stroke-width="1.3"/>
<text x="210.7" y="312.49999999999994" font-size="7.6" text-anchor="end" fill="#1e1e1e" stroke="#1e1e1e" stroke-width="0.18">1.5</text>
<line x1="218.05" y1="378.2" x2="218.05" y2="382.6" stroke="#1e1e1e" stroke-width="1.3"/>
<text x="218.05" y="393.4" font-size="7.6" text-anchor="middle" fill="#1e1e1e" stroke="#1e1e1e" stroke-width="0.18">−1</text>
<line x1="235.3" y1="378.2" x2="235.3" y2="382.6" stroke="#1e1e1e" stroke-width="1.3"/>
<text x="235.3" y="393.4" font-size="7.6" text-anchor="middle" fill="#1e1e1e" stroke="#1e1e1e" stroke-width="0.18">0</text>
<line x1="252.55" y1="378.2" x2="252.55" y2="382.6" stroke="#1e1e1e" stroke-width="1.3"/>
<text x="252.55" y="393.4" font-size="7.6" text-anchor="middle" fill="#1e1e1e" stroke="#1e1e1e" stroke-width="0.18">1</text>
<line x1="269.8" y1="378.2" x2="269.8" y2="382.6" stroke="#1e1e1e" stroke-width="1.3"/>
<text x="269.8" y="393.4" font-size="7.6" text-anchor="middle" fill="#1e1e1e" stroke="#1e1e1e" stroke-width="0.18">2</text>
<line x1="287.05" y1="378.2" x2="287.05" y2="382.6" stroke="#1e1e1e" stroke-width="1.3"/>
<text x="287.05" y="393.4" font-size="7.6" text-anchor="middle" fill="#1e1e1e" stroke="#1e1e1e" stroke-width="0.18">3</text>
<text x="252.8" y="404.1" font-size="7.6" text-anchor="middle" fill="#1e1e1e" stroke="#1e1e1e" stroke-width="0.18">Log nmol/L [dTAG13]</text>
<text x="192.5" y="345.4" font-size="7.6" text-anchor="middle" fill="#1e1e1e" transform="rotate(-90 192.5 345.4)" stroke="#1e1e1e" stroke-width="0.18">Relative viability</text>
<path d="M 218.05 331.8704 L 257.8 331.8704 L 258.8 336.248 L 287.05 336.248" fill="none" stroke="#de3b30" stroke-width="1.3"/>
<path d="M 218.05 331.8704 L 264.2 331.8704 L 265.2 321.74719999999996 L 287.05 321.74719999999996" fill="none" stroke="#2a1010" stroke-width="1.3"/>
<path d="M 235.3 335.792 L 235.3 329.864 M 233.3 335.792 L 237.3 335.792 M 233.3 329.864 L 237.3 329.864" stroke="#de3b30" stroke-width="1.1" fill="none"/>
<circle cx="235.3" cy="332.59999999999997" r="1.9" fill="#de3b30"/>
<path d="M 247.375 333.512 L 247.375 327.2192 M 245.375 333.512 L 249.375 333.512 M 245.375 327.2192 L 249.375 327.2192" stroke="#de3b30" stroke-width="1.1" fill="none"/>
<circle cx="247.375" cy="330.77599999999995" r="1.9" fill="#de3b30"/>
<path d="M 252.55 333.96799999999996 L 252.55 328.03999999999996 M 250.55 333.96799999999996 L 254.55 333.96799999999996 M 250.55 328.03999999999996 L 254.55 328.03999999999996" stroke="#de3b30" stroke-width="1.1" fill="none"/>
<circle cx="252.55" cy="331.23199999999997" r="1.9" fill="#de3b30"/>
<path d="M 264.625 337.616 L 264.625 334.424 M 262.625 337.616 L 266.625 337.616 M 262.625 334.424 L 266.625 334.424" stroke="#de3b30" stroke-width="1.1" fill="none"/>
<circle cx="264.625" cy="336.248" r="1.9" fill="#de3b30"/>
<path d="M 269.8 338.984 L 269.8 336.248 M 267.8 338.984 L 271.8 338.984 M 267.8 336.248 L 271.8 336.248" stroke="#de3b30" stroke-width="1.1" fill="none"/>
<circle cx="269.8" cy="337.616" r="1.9" fill="#de3b30"/>
<path d="M 281.875 338.984 L 281.875 334.88 M 279.875 338.984 L 283.875 338.984 M 279.875 334.88 L 283.875 334.88" stroke="#de3b30" stroke-width="1.1" fill="none"/>
<circle cx="281.875" cy="337.15999999999997" r="1.9" fill="#de3b30"/>
<path d="M 287.05 334.88 L 287.05 331.23199999999997 M 285.05 334.88 L 289.05 334.88 M 285.05 331.23199999999997 L 289.05 331.23199999999997" stroke="#de3b30" stroke-width="1.1" fill="none"/>
<circle cx="287.05" cy="333.056" r="1.9" fill="#de3b30"/>
<path d="M 235.3 338.6192 L 235.3 316.412 M 233.3 338.6192 L 237.3 338.6192 M 233.3 316.412 L 237.3 316.412" stroke="#111" stroke-width="1.1" fill="none"/>
<circle cx="235.3" cy="327.90319999999997" r="1.9" fill="#111"/>
<path d="M 247.375 337.29679999999996 L 247.375 327.2192 M 245.375 337.29679999999996 L 249.375 337.29679999999996 M 245.375 327.2192 L 249.375 327.2192" stroke="#111" stroke-width="1.1" fill="none"/>
<circle cx="247.375" cy="332.59999999999997" r="1.9" fill="#111"/>
<path d="M 252.55 341.9936 L 252.55 327.2192 M 250.55 341.9936 L 254.55 341.9936 M 250.55 327.2192 L 254.55 327.2192" stroke="#111" stroke-width="1.1" fill="none"/>
<circle cx="252.55" cy="335.336" r="1.9" fill="#111"/>
<path d="M 264.625 334.0136 L 264.625 321.2 M 262.625 334.0136 L 266.625 334.0136 M 262.625 321.2 L 266.625 321.2" stroke="#111" stroke-width="1.1" fill="none"/>
<circle cx="264.625" cy="328.03999999999996" r="1.9" fill="#111"/>
<path d="M 269.8 323.7992 L 269.8 318.5096 M 267.8 323.7992 L 271.8 323.7992 M 267.8 318.5096 L 271.8 318.5096" stroke="#111" stroke-width="1.1" fill="none"/>
<circle cx="269.8" cy="321.2" r="1.9" fill="#111"/>
<path d="M 281.875 323.7992 L 281.875 317.78 M 279.875 323.7992 L 283.875 323.7992 M 279.875 317.78 L 283.875 317.78" stroke="#111" stroke-width="1.1" fill="none"/>
<circle cx="281.875" cy="321.2" r="1.9" fill="#111"/>
<path d="M 287.05 327.2192 L 287.05 319.7864 M 285.05 327.2192 L 289.05 327.2192 M 285.05 319.7864 L 289.05 319.7864" stroke="#111" stroke-width="1.1" fill="none"/>
<circle cx="287.05" cy="323.936" r="1.9" fill="#111"/>
<line x1="303.8" y1="321.5" x2="318.5" y2="321.5" stroke="#111" stroke-width="1.3"/>
<circle cx="311" cy="321.5" r="2.1" fill="#111"/>
<line x1="303.8" y1="329.4" x2="318.5" y2="329.4" stroke="#de3b30" stroke-width="1.3"/>
<circle cx="311" cy="329.4" r="2.1" fill="#de3b30"/>
<text x="320.8" y="324.3" font-size="7.8" text-anchor="start" fill="#1e1e1e" stroke="#1e1e1e" stroke-width="0.18">GIMEN</text>
<text x="320.8" y="332.2" font-size="7.8" text-anchor="start" fill="#1e1e1e" stroke="#1e1e1e" stroke-width="0.18">GIMEN-NXT1<tspan font-size="5.2" dy="-3.2">deg</tspan></text>
<text x="371.0" y="292.5" font-size="10.4" text-anchor="start" fill="#111" font-weight="bold" stroke="#111" stroke-width="0.35">I</text>
<text x="372.0" y="308.4" font-size="8.05" text-anchor="start" fill="#1e1e1e" stroke="#1e1e1e" stroke-width="0.18">500 nmol/L dTAG13 (hrs):</text>
<text x="470.8" y="308.6" font-size="7.9" text-anchor="middle" fill="#1e1e1e" stroke="#1e1e1e" stroke-width="0.18">0</text>
<text x="483.5" y="308.6" font-size="7.9" text-anchor="middle" fill="#1e1e1e" stroke="#1e1e1e" stroke-width="0.18">2</text>
<text x="497.0" y="308.6" font-size="7.9" text-anchor="middle" fill="#1e1e1e" stroke="#1e1e1e" stroke-width="0.18">6</text>
<text x="511.3" y="308.6" font-size="7.9" text-anchor="middle" fill="#1e1e1e" stroke="#1e1e1e" stroke-width="0.18">24</text>
<rect x="463.8" y="312.0" width="55.0" height="25.2" fill="#e0e0e0" stroke="#1a1a1a" stroke-width="1.5"/>
<rect x="463.8" y="340.6" width="55.0" height="13.2" fill="#e0e0e0" stroke="#1a1a1a" stroke-width="1.5"/>
<rect x="463.8" y="357.2" width="55.0" height="16.2" fill="#e0e0e0" stroke="#1a1a1a" stroke-width="1.5"/>
<rect x="463.8" y="376.0" width="55.0" height="14.0" fill="#e0e0e0" stroke="#1a1a1a" stroke-width="1.5"/>
<rect x="464.6" y="344" width="53.4" height="7" fill="#cfcfcf" filter="url(#blur)"/>
<rect x="466.20" y="318.85" width="10.2" height="1.9" rx="0.95" fill="#222" fill-opacity="0.55" filter="url(#blur)"/>
<rect x="466.00" y="346.00" width="10.6" height="3.2" rx="1.2" fill="#222" fill-opacity="0.3" filter="url(#blur)"/>
<rect x="466.10" y="365.20" width="10.4" height="3.8" rx="1.2" fill="#222" fill-opacity="0.95" filter="url(#blur)"/>
<rect x="466.00" y="380.80" width="10.6" height="2.8" rx="1.2" fill="#222" fill-opacity="0.75" filter="url(#blur)"/>
<rect x="479.50" y="318.85" width="10.2" height="1.9" rx="0.95" fill="#222" fill-opacity="0.75" filter="url(#blur)"/>
<rect x="479.30" y="346.00" width="10.6" height="3.2" rx="1.2" fill="#222" fill-opacity="0.35" filter="url(#blur)"/>
<rect x="479.40" y="365.90" width="10.4" height="2.4" rx="1.2" fill="#222" fill-opacity="0.28" filter="url(#blur)"/>
<rect x="479.30" y="380.80" width="10.6" height="2.8" rx="1.2" fill="#222" fill-opacity="0.75" filter="url(#blur)"/>
<rect x="493.20" y="318.85" width="10.2" height="1.9" rx="0.95" fill="#222" fill-opacity="0.8" filter="url(#blur)"/>
<rect x="493.00" y="346.00" width="10.6" height="3.2" rx="1.2" fill="#222" fill-opacity="0.5" filter="url(#blur)"/>
<rect x="493.10" y="365.90" width="10.4" height="2.4" rx="1.2" fill="#222" fill-opacity="0.25" filter="url(#blur)"/>
<rect x="493.00" y="380.80" width="10.6" height="2.8" rx="1.2" fill="#222" fill-opacity="0.7" filter="url(#blur)"/>
<rect x="506.90" y="318.85" width="10.2" height="1.9" rx="0.95" fill="#222" fill-opacity="0.75" filter="url(#blur)"/>
<rect x="506.70" y="346.00" width="10.6" height="3.2" rx="1.2" fill="#222" fill-opacity="0.35" filter="url(#blur)"/>
<rect x="506.80" y="366.00" width="10.4" height="2.2" rx="1.1" fill="#222" fill-opacity="0.12" filter="url(#blur)"/>
<rect x="506.70" y="380.80" width="10.6" height="2.8" rx="1.2" fill="#222" fill-opacity="0.75" filter="url(#blur)"/>
<rect x="493.80" y="349.50" width="9" height="2.0" rx="1.0" fill="#222" fill-opacity="0.25" filter="url(#blur)"/>
<text x="461.0" y="326.2" font-size="7.8" text-anchor="end" fill="#1e1e1e" stroke="#1e1e1e" stroke-width="0.18">PARP</text>
<text x="460.5" y="349.2" font-size="7.8" text-anchor="end" fill="#1e1e1e" stroke="#1e1e1e" stroke-width="0.18">NXF1</text>
<text x="460.5" y="366.3" font-size="7.8" text-anchor="end" fill="#1e1e1e" stroke="#1e1e1e" stroke-width="0.18">HA (NXT1)</text>
<text x="460.5" y="385.8" font-size="7.8" text-anchor="end" fill="#1e1e1e" stroke="#1e1e1e" stroke-width="0.18">GAPDH</text>
<text x="1.5" y="435.8" font-size="10.4" text-anchor="start" fill="#111" font-weight="bold" stroke="#111" stroke-width="0.35">J</text>
<text x="67.0" y="455.4" font-size="7.6" text-anchor="middle" fill="#1e1e1e" stroke="#1e1e1e" stroke-width="0.18">Input</text>
<line x1="53.7" y1="461.0" x2="85.0" y2="461.0" stroke="#1e1e1e" stroke-width="1.2"/>
<text x="45.8" y="470.4" font-size="7.6" text-anchor="end" fill="#1e1e1e" stroke="#1e1e1e" stroke-width="0.18">dTAG13:</text>
<text x="61.1" y="469.4" font-size="7.2" text-anchor="middle" fill="#1e1e1e" stroke="#1e1e1e" stroke-width="0.18">–</text>
<text x="76.2" y="469.4" font-size="7.2" text-anchor="middle" fill="#1e1e1e" stroke="#1e1e1e" stroke-width="0.18">+</text>
<text x="108.5" y="469.4" font-size="7.2" text-anchor="middle" fill="#1e1e1e" stroke="#1e1e1e" stroke-width="0.18">–</text>
<text x="123.8" y="469.4" font-size="7.2" text-anchor="middle" fill="#1e1e1e" stroke="#1e1e1e" stroke-width="0.18">+</text>
<text x="137.7" y="469.4" font-size="7.2" text-anchor="middle" fill="#1e1e1e" stroke="#1e1e1e" stroke-width="0.18">–</text>
<text x="151.5" y="469.4" font-size="7.2" text-anchor="middle" fill="#1e1e1e" stroke="#1e1e1e" stroke-width="0.18">+</text>
<text x="171.5" y="469.4" font-size="7.2" text-anchor="middle" fill="#1e1e1e" stroke="#1e1e1e" stroke-width="0.18">–</text>
<text x="186" y="469.4" font-size="7.2" text-anchor="middle" fill="#1e1e1e" stroke="#1e1e1e" stroke-width="0.18">+</text>
<text x="212" y="469.4" font-size="7.2" text-anchor="middle" fill="#1e1e1e" stroke="#1e1e1e" stroke-width="0.18">–</text>
<text x="227.8" y="469.4" font-size="7.2" text-anchor="middle" fill="#1e1e1e" stroke="#1e1e1e" stroke-width="0.18">+</text>
<rect x="49.3" y="471.8" width="44.3" height="13.2" fill="#e0e0e0" stroke="#1a1a1a" stroke-width="1.5"/>
<rect x="49.3" y="487.8" width="44.3" height="14.0" fill="#e0e0e0" stroke="#1a1a1a" stroke-width="1.5"/>
<rect x="49.3" y="503.0" width="44.3" height="18.3" fill="#e0e0e0" stroke="#1a1a1a" stroke-width="1.5"/>
<rect x="53.70" y="477.80" width="14" height="1.6" rx="0.8" fill="#222" fill-opacity="0.3" filter="url(#blur)"/>
<rect x="53.75" y="495.40" width="13.5" height="3.2" rx="1.2" fill="#222" fill-opacity="0.62" filter="url(#blur2)"/>
<rect x="52.25" y="510.00" width="15.5" height="4.0" rx="1.2" fill="#222" fill-opacity="0.72" filter="url(#blur2)"/>
<rect x="71.30" y="508.40" width="15" height="4.0" rx="1.2" fill="#222" fill-opacity="0.72" filter="url(#blur2)"/>
<text x="45.8" y="481.5" font-size="7.6" text-anchor="end" fill="#1e1e1e" stroke="#1e1e1e" stroke-width="0.18">NXF1</text>
<text x="45.8" y="497.2" font-size="7.6" text-anchor="end" fill="#1e1e1e" stroke="#1e1e1e" stroke-width="0.18">HA (NXT1)</text>
<text x="45.8" y="513.8" font-size="7.6" text-anchor="end" fill="#1e1e1e" stroke="#1e1e1e" stroke-width="0.18">GAPDH</text>
<rect x="96.3" y="471.5" width="146.7" height="13.6" fill="#e0e0e0" stroke="#1a1a1a" stroke-width="1.5"/>
<rect x="96.3" y="487.5" width="146.7" height="14.0" fill="#e0e0e0" stroke="#1a1a1a" stroke-width="1.5"/>
<rect x="164.50" y="475.80" width="15" height="4.0" rx="1.2" fill="#222" fill-opacity="0.95" filter="url(#blur2)"/>
<rect x="184.45" y="476.70" width="13.5" height="3.0" rx="1.2" fill="#222" fill-opacity="0.6" filter="url(#blur2)"/>
<rect x="204.05" y="477.20" width="14.5" height="2.6" rx="1.2" fill="#222" fill-opacity="0.4" filter="url(#blur2)"/>
<rect x="167.55" y="490.50" width="12.5" height="7.0" rx="1.2" fill="#222" fill-opacity="0.55" filter="url(#blur2)"/>
<rect x="201.90" y="489.10" width="14.4" height="9.0" rx="1.2" fill="#222" fill-opacity="0.85" filter="url(#blur2)"/>
<text x="116.7" y="446.0" font-size="7.4" text-anchor="middle" fill="#1e1e1e" stroke="#1e1e1e" stroke-width="0.18">IP: IgG</text>
<text x="116.7" y="456.1" font-size="7.4" text-anchor="middle" fill="#1e1e1e" stroke="#1e1e1e" stroke-width="0.18">(m)</text>
<text x="146.2" y="446.0" font-size="7.4" text-anchor="middle" fill="#1e1e1e" stroke="#1e1e1e" stroke-width="0.18">IP: IgG</text>
<text x="146.2" y="456.1" font-size="7.4" text-anchor="middle" fill="#1e1e1e" stroke="#1e1e1e" stroke-width="0.18">(r)</text>
<text x="222.1" y="446.0" font-size="7.4" text-anchor="middle" fill="#1e1e1e" stroke="#1e1e1e" stroke-width="0.18">IP: HA</text>
<text x="222.1" y="456.1" font-size="7.4" text-anchor="middle" fill="#1e1e1e" stroke="#1e1e1e" stroke-width="0.18">(NXT1)</text>
<text x="183.8" y="456.1" font-size="7.4" text-anchor="middle" fill="#1e1e1e" stroke="#1e1e1e" stroke-width="0.18">IP:NXF1</text>
<line x1="100.8" y1="460.8" x2="127.5" y2="460.8" stroke="#1e1e1e" stroke-width="1.2"/>
<line x1="132.0" y1="460.8" x2="159.2" y2="460.8" stroke="#1e1e1e" stroke-width="1.2"/>
<line x1="165.4" y1="460.8" x2="200.8" y2="460.8" stroke="#1e1e1e" stroke-width="1.2"/>
<line x1="208.5" y1="460.8" x2="234.6" y2="460.8" stroke="#1e1e1e" stroke-width="1.2"/>
</svg></body></html>
